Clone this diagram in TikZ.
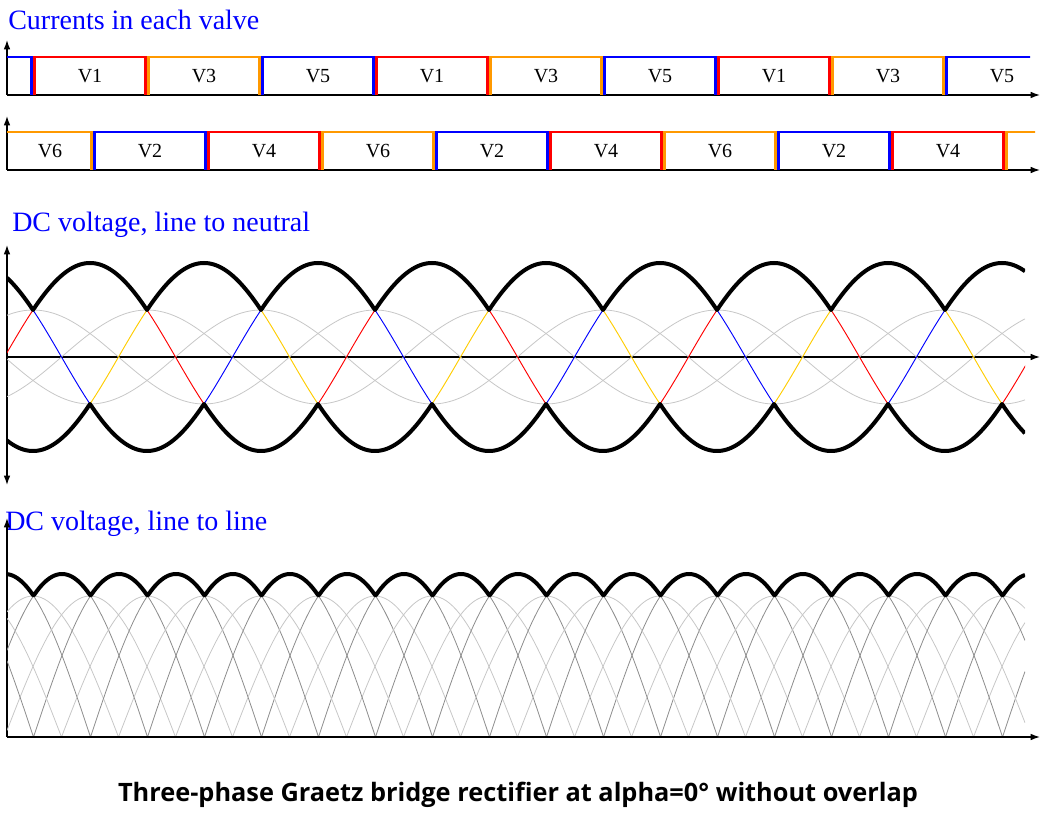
\documentclass[tikz,border=0pt]{standalone}
\usepackage{fontspec}
\setmainfont{Liberation Serif}
\newfontfamily\capfont{Open Sans}
\usetikzlibrary{arrows.meta}
\definecolor{vred}{RGB}{255,0,0}
\definecolor{vorange}{RGB}{255,153,0}
\definecolor{vblue}{RGB}{0,0,255}
\definecolor{vgold}{RGB}{255,204,0}

\begin{document}
\begin{tikzpicture}[
    x=0.75pt, y=-0.75pt,
    every node/.style={inner sep=0pt},
    axis/.style={line width=1pt, -{Latex[length=7pt,width=5pt]}},
    valve/.style={line width=2.2pt},
    envelope/.style={line width=3pt, line join=round},
    faint/.style={line width=0.6pt, draw=black!22},
    darkfaint/.style={line width=0.6pt, draw=black!45},
    title/.style={font=\fontsize{21}{21}\selectfont, text=vblue, anchor=base west},
    vlabel/.style={font=\fontsize{15}{15}\selectfont}
]
\useasboundingbox (0,0) rectangle (1045,837);

% Currents in each valve
\node[title] (t1) at (8,30) {Currents in each valve};
\draw[axis] (7,95) -- (7,40);
\draw[axis] (7,95) -- (1040,95);
\draw[axis] (7,170) -- (7,116);
\draw[axis] (7,170) -- (1040,170);

\begin{scope}
\clip (7,45) rectangle (1030,100);
\foreach \k/\c in {-1/vblue,0/vred,1/vorange,2/vblue,3/vred,4/vorange,5/vblue,6/vred,7/vorange,8/vblue} {
    \pgfmathsetmacro\s{33+114*\k}
    \draw[valve, \c] (\s+1.5,95) |- (\s+112.5,57) -- (\s+112.5,95);
}
\end{scope}
\foreach \k/\t in {0/V1,1/V3,2/V5,3/V1,4/V3,5/V5,6/V1,7/V3,8/V5}
    \node[vlabel] (u\k) at (90+114*\k,76) {\t};

\begin{scope}
\clip (7,120) rectangle (1035,175);
\foreach \k/\c in {-1/vorange,0/vblue,1/vred,2/vorange,3/vblue,4/vred,5/vorange,6/vblue,7/vred,8/vorange} {
    \pgfmathsetmacro\s{93+114*\k}
    \draw[valve, \c] (\s+1.5,170) |- (\s+112.5,132) -- (\s+112.5,170);
}
\end{scope}
\node[vlabel] (l0) at (50,151) {V6};
\foreach \k/\t in {0/V2,1/V4,2/V6,3/V2,4/V4,5/V6,6/V2,7/V4}
    \node[vlabel] (l\the\numexpr\k+1\relax) at (150+114*\k,151) {\t};

% DC voltage, line to neutral
\node[title] (t2) at (12,232) {DC voltage, line to neutral};
\draw[axis] (7,357) -- (7,245);
\draw[axis] (7,357) -- (7,485);
\draw[axis] (7,357) -- (1040,357);

\begin{scope}
\clip (7,240) rectangle (1025,480);
\foreach \p in {33,147,261}
    \draw[faint] plot[domain=7:1025, samples=300] (\x,{357-47*cos((\x-\p)*1.052632)});
\foreach \p/\c in {90/vred,204/vgold,318/vblue} {
    \foreach \k in {-3,...,6} {
        \pgfmathsetmacro\a{\p+57+171*\k}
        \pgfmathsetmacro\b{\p+114+171*\k}
        \draw[\c, line width=0.7pt] plot[domain=\a:\b, samples=12] (\x,{357-94*cos((\x-\p)*1.052632)});
    }
}
\draw[envelope] plot[domain=7:1025, samples=1019]
    (\x,{357-94*max(cos((\x-90)*1.052632),cos((\x-204)*1.052632),cos((\x-318)*1.052632))});
\draw[envelope] plot[domain=7:1025, samples=1019]
    (\x,{357-94*min(cos((\x-90)*1.052632),cos((\x-204)*1.052632),cos((\x-318)*1.052632))});
\end{scope}

% DC voltage, line to line
\node[title] (t3) at (5,530) {DC voltage, line to line};
\draw[axis] (7,737) -- (7,518);

\begin{scope}
\clip (7,540) rectangle (1025,737);
\foreach \k in {0,...,5} {
    \draw[faint] plot[domain=7:1025, samples=300] (\x,{737-141*cos((\x-33-57*\k)*1.052632)});
    \draw[darkfaint] plot[domain=7:1025, samples=300] (\x,{737-163*cos((\x-5-57*\k)*1.052632)});
}
\draw[envelope] plot[domain=7:1025, samples=1019]
    (\x,{737-163*max(abs(cos((\x-5)*1.052632)),abs(cos((\x-62)*1.052632)),abs(cos((\x-119)*1.052632)))});
\end{scope}
\draw[axis] (7,737) -- (1040,737);

\node[font=\capfont\bfseries\fontsize{19}{19}\selectfont] (cap) at (518,795)
    {Three-phase Graetz bridge rectifier at alpha=0° without overlap};
\end{tikzpicture}
\end{document}
